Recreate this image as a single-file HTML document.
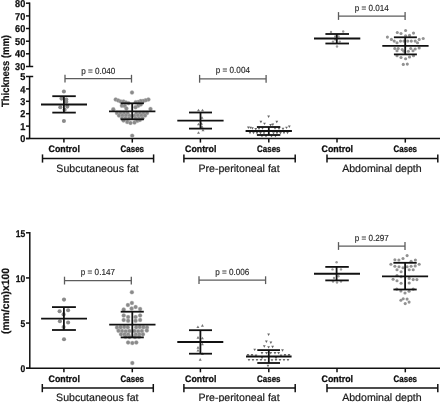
<!DOCTYPE html>
<html><head><meta charset="utf-8"><style>
html,body{margin:0;padding:0;background:#fff;}
body{width:440px;height:402px;overflow:hidden;}
svg{display:block;}
text{font-family:"Liberation Sans",Arial,sans-serif;text-rendering:geometricPrecision;}
</style></head><body>
<svg width="440" height="402" viewBox="0 0 440 402">
<rect width="440" height="402" fill="#fff"/>
<line x1="29.6" y1="2.45" x2="29.6" y2="66.5" stroke="#111" stroke-width="1.5"/>
<line x1="26.0" y1="3.2" x2="29.6" y2="3.2" stroke="#111" stroke-width="1.5"/>
<text x="25.3" y="6.800000000000001" font-size="10" font-weight="bold" text-anchor="end" fill="#111" textLength="10.20" lengthAdjust="spacingAndGlyphs" stroke="#111" stroke-width="0.25">80</text>
<line x1="26.0" y1="15.9" x2="29.6" y2="15.9" stroke="#111" stroke-width="1.5"/>
<text x="25.3" y="19.5" font-size="10" font-weight="bold" text-anchor="end" fill="#111" textLength="10.20" lengthAdjust="spacingAndGlyphs" stroke="#111" stroke-width="0.25">70</text>
<line x1="26.0" y1="28.5" x2="29.6" y2="28.5" stroke="#111" stroke-width="1.5"/>
<text x="25.3" y="32.1" font-size="10" font-weight="bold" text-anchor="end" fill="#111" textLength="10.20" lengthAdjust="spacingAndGlyphs" stroke="#111" stroke-width="0.25">60</text>
<line x1="26.0" y1="41.2" x2="29.6" y2="41.2" stroke="#111" stroke-width="1.5"/>
<text x="25.3" y="44.800000000000004" font-size="10" font-weight="bold" text-anchor="end" fill="#111" textLength="10.20" lengthAdjust="spacingAndGlyphs" stroke="#111" stroke-width="0.25">50</text>
<line x1="26.0" y1="53.8" x2="29.6" y2="53.8" stroke="#111" stroke-width="1.5"/>
<text x="25.3" y="57.4" font-size="10" font-weight="bold" text-anchor="end" fill="#111" textLength="10.20" lengthAdjust="spacingAndGlyphs" stroke="#111" stroke-width="0.25">40</text>
<line x1="26.0" y1="66.5" x2="33.2" y2="66.5" stroke="#111" stroke-width="1.5"/>
<text x="25.3" y="70.1" font-size="10" font-weight="bold" text-anchor="end" fill="#111" textLength="10.20" lengthAdjust="spacingAndGlyphs" stroke="#111" stroke-width="0.25">30</text>
<line x1="29.6" y1="76.5" x2="29.6" y2="138.5" stroke="#111" stroke-width="1.5"/>
<line x1="26.0" y1="138.5" x2="29.6" y2="138.5" stroke="#111" stroke-width="1.5"/>
<text x="25.3" y="142.1" font-size="10" font-weight="bold" text-anchor="end" fill="#111" textLength="5.10" lengthAdjust="spacingAndGlyphs" stroke="#111" stroke-width="0.25">0</text>
<line x1="26.0" y1="126.1" x2="29.6" y2="126.1" stroke="#111" stroke-width="1.5"/>
<text x="25.3" y="129.7" font-size="10" font-weight="bold" text-anchor="end" fill="#111" textLength="5.10" lengthAdjust="spacingAndGlyphs" stroke="#111" stroke-width="0.25">1</text>
<line x1="26.0" y1="113.7" x2="29.6" y2="113.7" stroke="#111" stroke-width="1.5"/>
<text x="25.3" y="117.3" font-size="10" font-weight="bold" text-anchor="end" fill="#111" textLength="5.10" lengthAdjust="spacingAndGlyphs" stroke="#111" stroke-width="0.25">2</text>
<line x1="26.0" y1="101.3" x2="29.6" y2="101.3" stroke="#111" stroke-width="1.5"/>
<text x="25.3" y="104.89999999999999" font-size="10" font-weight="bold" text-anchor="end" fill="#111" textLength="5.10" lengthAdjust="spacingAndGlyphs" stroke="#111" stroke-width="0.25">3</text>
<line x1="26.0" y1="88.9" x2="29.6" y2="88.9" stroke="#111" stroke-width="1.5"/>
<text x="25.3" y="92.5" font-size="10" font-weight="bold" text-anchor="end" fill="#111" textLength="5.10" lengthAdjust="spacingAndGlyphs" stroke="#111" stroke-width="0.25">4</text>
<line x1="26.0" y1="76.5" x2="33.2" y2="76.5" stroke="#111" stroke-width="1.5"/>
<text x="25.3" y="80.1" font-size="10" font-weight="bold" text-anchor="end" fill="#111" textLength="5.10" lengthAdjust="spacingAndGlyphs" stroke="#111" stroke-width="0.25">5</text>
<line x1="26.0" y1="138.5" x2="440" y2="138.5" stroke="#111" stroke-width="1.5"/>
<line x1="63.9" y1="138.5" x2="63.9" y2="142.6" stroke="#111" stroke-width="1.5"/>
<line x1="200.4" y1="138.5" x2="200.4" y2="142.6" stroke="#111" stroke-width="1.5"/>
<line x1="337.0" y1="138.5" x2="337.0" y2="142.6" stroke="#111" stroke-width="1.5"/>
<line x1="132.3" y1="138.5" x2="132.3" y2="142.6" stroke="#111" stroke-width="1.5"/>
<line x1="268.8" y1="138.5" x2="268.8" y2="142.6" stroke="#111" stroke-width="1.5"/>
<line x1="405.3" y1="138.5" x2="405.3" y2="142.6" stroke="#111" stroke-width="1.5"/>
<text x="64.2" y="152.1" font-size="9.3" font-weight="bold" text-anchor="middle" fill="#111" textLength="31.4" lengthAdjust="spacingAndGlyphs" stroke="#111" stroke-width="0.3">Control</text>
<text x="200.70000000000002" y="152.1" font-size="9.3" font-weight="bold" text-anchor="middle" fill="#111" textLength="31.4" lengthAdjust="spacingAndGlyphs" stroke="#111" stroke-width="0.3">Control</text>
<text x="337.3" y="152.1" font-size="9.3" font-weight="bold" text-anchor="middle" fill="#111" textLength="31.4" lengthAdjust="spacingAndGlyphs" stroke="#111" stroke-width="0.3">Control</text>
<text x="132.3" y="152.1" font-size="9.3" font-weight="bold" text-anchor="middle" fill="#111" textLength="23.4" lengthAdjust="spacingAndGlyphs" stroke="#111" stroke-width="0.3">Cases</text>
<text x="268.8" y="152.1" font-size="9.3" font-weight="bold" text-anchor="middle" fill="#111" textLength="23.4" lengthAdjust="spacingAndGlyphs" stroke="#111" stroke-width="0.3">Cases</text>
<text x="405.3" y="152.1" font-size="9.3" font-weight="bold" text-anchor="middle" fill="#111" textLength="23.4" lengthAdjust="spacingAndGlyphs" stroke="#111" stroke-width="0.3">Cases</text>
<line x1="42.5" y1="158.6" x2="153.6" y2="158.6" stroke="#111" stroke-width="1.5"/>
<line x1="42.5" y1="154.4" x2="42.5" y2="162.6" stroke="#111" stroke-width="1.5"/>
<line x1="153.6" y1="154.4" x2="153.6" y2="162.6" stroke="#111" stroke-width="1.5"/>
<text x="97.55" y="171.5" font-size="10.6" font-weight="normal" text-anchor="middle" fill="#1a1a1a" stroke="#1a1a1a" stroke-width="0.2">Subcutaneous fat</text>
<line x1="183.9" y1="158.6" x2="295.2" y2="158.6" stroke="#111" stroke-width="1.5"/>
<line x1="183.9" y1="154.4" x2="183.9" y2="162.6" stroke="#111" stroke-width="1.5"/>
<line x1="295.2" y1="154.4" x2="295.2" y2="162.6" stroke="#111" stroke-width="1.5"/>
<text x="239.05" y="171.5" font-size="10.6" font-weight="normal" text-anchor="middle" fill="#1a1a1a" stroke="#1a1a1a" stroke-width="0.2">Pre-peritoneal fat</text>
<line x1="327.0" y1="158.6" x2="437.8" y2="158.6" stroke="#111" stroke-width="1.5"/>
<line x1="327.0" y1="154.4" x2="327.0" y2="162.6" stroke="#111" stroke-width="1.5"/>
<line x1="437.8" y1="154.4" x2="437.8" y2="162.6" stroke="#111" stroke-width="1.5"/>
<text x="381.9" y="171.5" font-size="10.6" font-weight="normal" text-anchor="middle" fill="#1a1a1a" stroke="#1a1a1a" stroke-width="0.2">Abdominal depth</text>
<text transform="translate(9.2,71) rotate(-90)" font-size="10.6" font-weight="bold" text-anchor="middle" fill="#111" stroke="#111" stroke-width="0.2" textLength="72" lengthAdjust="spacingAndGlyphs">Thickness (mm)</text>
<line x1="65.0" y1="78.7" x2="131.5" y2="78.7" stroke="#5c5c5c" stroke-width="1.25"/>
<line x1="65.0" y1="74.8" x2="65.0" y2="82.60000000000001" stroke="#5c5c5c" stroke-width="1.3"/>
<line x1="131.5" y1="74.8" x2="131.5" y2="82.60000000000001" stroke="#5c5c5c" stroke-width="1.3"/>
<text x="98.25" y="73.5" font-size="8.8" font-weight="normal" text-anchor="middle" fill="#2a2a2a" textLength="34.2" lengthAdjust="spacingAndGlyphs" stroke="#2a2a2a" stroke-width="0.15">p = 0.040</text>
<line x1="199.6" y1="78.8" x2="266.1" y2="78.8" stroke="#5c5c5c" stroke-width="1.25"/>
<line x1="199.6" y1="74.89999999999999" x2="199.6" y2="82.7" stroke="#5c5c5c" stroke-width="1.3"/>
<line x1="266.1" y1="74.89999999999999" x2="266.1" y2="82.7" stroke="#5c5c5c" stroke-width="1.3"/>
<text x="232.85000000000002" y="73.3" font-size="8.8" font-weight="normal" text-anchor="middle" fill="#2a2a2a" textLength="34.2" lengthAdjust="spacingAndGlyphs" stroke="#2a2a2a" stroke-width="0.15">p = 0.004</text>
<line x1="338.5" y1="16.0" x2="405.1" y2="16.0" stroke="#5c5c5c" stroke-width="1.25"/>
<line x1="338.5" y1="12.1" x2="338.5" y2="19.9" stroke="#5c5c5c" stroke-width="1.3"/>
<line x1="405.1" y1="12.1" x2="405.1" y2="19.9" stroke="#5c5c5c" stroke-width="1.3"/>
<text x="371.8" y="10.9" font-size="8.8" font-weight="normal" text-anchor="middle" fill="#2a2a2a" textLength="34.2" lengthAdjust="spacingAndGlyphs" stroke="#2a2a2a" stroke-width="0.15">p = 0.014</text>
<circle cx="63.9" cy="91.5" r="2.05" fill="#8a8a8a"/>
<circle cx="61.5" cy="98.6" r="2.05" fill="#8a8a8a"/>
<circle cx="66.3" cy="99.6" r="2.05" fill="#8a8a8a"/>
<circle cx="66.3" cy="101.7" r="2.05" fill="#8a8a8a"/>
<circle cx="60.3" cy="107.3" r="2.05" fill="#8a8a8a"/>
<circle cx="67.3" cy="106.6" r="2.05" fill="#8a8a8a"/>
<circle cx="64.6" cy="109.8" r="2.05" fill="#8a8a8a"/>
<circle cx="63.9" cy="121" r="2.05" fill="#8a8a8a"/>
<circle cx="132" cy="92.6" r="2.0" fill="#8a8a8a" stroke="#bdbdbd" stroke-width="0.35"/>
<circle cx="115.7" cy="99.5" r="2.0" fill="#8a8a8a" stroke="#bdbdbd" stroke-width="0.35"/>
<circle cx="118.3" cy="100.6" r="2.0" fill="#8a8a8a" stroke="#bdbdbd" stroke-width="0.35"/>
<circle cx="120.7" cy="101.4" r="2.0" fill="#8a8a8a" stroke="#bdbdbd" stroke-width="0.35"/>
<circle cx="123.5" cy="101.5" r="2.0" fill="#8a8a8a" stroke="#bdbdbd" stroke-width="0.35"/>
<circle cx="126" cy="102.5" r="2.0" fill="#8a8a8a" stroke="#bdbdbd" stroke-width="0.35"/>
<circle cx="128.5" cy="103.2" r="2.0" fill="#8a8a8a" stroke="#bdbdbd" stroke-width="0.35"/>
<circle cx="148.4" cy="99.5" r="2.0" fill="#8a8a8a" stroke="#bdbdbd" stroke-width="0.35"/>
<circle cx="145.6" cy="100.3" r="2.0" fill="#8a8a8a" stroke="#bdbdbd" stroke-width="0.35"/>
<circle cx="143.1" cy="100.9" r="2.0" fill="#8a8a8a" stroke="#bdbdbd" stroke-width="0.35"/>
<circle cx="140.7" cy="101.1" r="2.0" fill="#8a8a8a" stroke="#bdbdbd" stroke-width="0.35"/>
<circle cx="138.2" cy="102" r="2.0" fill="#8a8a8a" stroke="#bdbdbd" stroke-width="0.35"/>
<circle cx="135.7" cy="102.2" r="2.0" fill="#8a8a8a" stroke="#bdbdbd" stroke-width="0.35"/>
<circle cx="121.9" cy="105.7" r="2.0" fill="#8a8a8a" stroke="#bdbdbd" stroke-width="0.35"/>
<circle cx="124.8" cy="106.0" r="2.0" fill="#8a8a8a" stroke="#bdbdbd" stroke-width="0.35"/>
<circle cx="126.4" cy="108.5" r="2.0" fill="#8a8a8a" stroke="#bdbdbd" stroke-width="0.35"/>
<circle cx="138.2" cy="105.7" r="2.0" fill="#8a8a8a" stroke="#bdbdbd" stroke-width="0.35"/>
<circle cx="140.7" cy="104.6" r="2.0" fill="#8a8a8a" stroke="#bdbdbd" stroke-width="0.35"/>
<circle cx="135.5" cy="107.3" r="2.0" fill="#8a8a8a" stroke="#bdbdbd" stroke-width="0.35"/>
<circle cx="113.3" cy="109.3" r="2.0" fill="#8a8a8a" stroke="#bdbdbd" stroke-width="0.35"/>
<circle cx="150.5" cy="108.9" r="2.0" fill="#8a8a8a" stroke="#bdbdbd" stroke-width="0.35"/>
<circle cx="117" cy="113" r="2.0" fill="#8a8a8a" stroke="#bdbdbd" stroke-width="0.35"/>
<circle cx="120.5" cy="113" r="2.0" fill="#8a8a8a" stroke="#bdbdbd" stroke-width="0.35"/>
<circle cx="124" cy="113" r="2.0" fill="#8a8a8a" stroke="#bdbdbd" stroke-width="0.35"/>
<circle cx="127.5" cy="113.2" r="2.0" fill="#8a8a8a" stroke="#bdbdbd" stroke-width="0.35"/>
<circle cx="136.5" cy="113.2" r="2.0" fill="#8a8a8a" stroke="#bdbdbd" stroke-width="0.35"/>
<circle cx="140" cy="113" r="2.0" fill="#8a8a8a" stroke="#bdbdbd" stroke-width="0.35"/>
<circle cx="143.5" cy="113" r="2.0" fill="#8a8a8a" stroke="#bdbdbd" stroke-width="0.35"/>
<circle cx="147" cy="113" r="2.0" fill="#8a8a8a" stroke="#bdbdbd" stroke-width="0.35"/>
<circle cx="119" cy="115.6" r="2.0" fill="#8a8a8a" stroke="#bdbdbd" stroke-width="0.35"/>
<circle cx="122.5" cy="115.6" r="2.0" fill="#8a8a8a" stroke="#bdbdbd" stroke-width="0.35"/>
<circle cx="126" cy="115.6" r="2.0" fill="#8a8a8a" stroke="#bdbdbd" stroke-width="0.35"/>
<circle cx="129.5" cy="115.8" r="2.0" fill="#8a8a8a" stroke="#bdbdbd" stroke-width="0.35"/>
<circle cx="134.5" cy="115.8" r="2.0" fill="#8a8a8a" stroke="#bdbdbd" stroke-width="0.35"/>
<circle cx="138" cy="115.6" r="2.0" fill="#8a8a8a" stroke="#bdbdbd" stroke-width="0.35"/>
<circle cx="141.5" cy="115.6" r="2.0" fill="#8a8a8a" stroke="#bdbdbd" stroke-width="0.35"/>
<circle cx="145" cy="115.6" r="2.0" fill="#8a8a8a" stroke="#bdbdbd" stroke-width="0.35"/>
<circle cx="122" cy="118.2" r="2.0" fill="#8a8a8a" stroke="#bdbdbd" stroke-width="0.35"/>
<circle cx="125.5" cy="118.2" r="2.0" fill="#8a8a8a" stroke="#bdbdbd" stroke-width="0.35"/>
<circle cx="129" cy="118.4" r="2.0" fill="#8a8a8a" stroke="#bdbdbd" stroke-width="0.35"/>
<circle cx="135.5" cy="118.4" r="2.0" fill="#8a8a8a" stroke="#bdbdbd" stroke-width="0.35"/>
<circle cx="139" cy="118.2" r="2.0" fill="#8a8a8a" stroke="#bdbdbd" stroke-width="0.35"/>
<circle cx="142.5" cy="118.2" r="2.0" fill="#8a8a8a" stroke="#bdbdbd" stroke-width="0.35"/>
<circle cx="123.5" cy="120.4" r="2.0" fill="#8a8a8a" stroke="#bdbdbd" stroke-width="0.35"/>
<circle cx="127.2" cy="122" r="2.0" fill="#8a8a8a" stroke="#bdbdbd" stroke-width="0.35"/>
<circle cx="130.5" cy="122.9" r="2.0" fill="#8a8a8a" stroke="#bdbdbd" stroke-width="0.35"/>
<circle cx="134.5" cy="122.6" r="2.0" fill="#8a8a8a" stroke="#bdbdbd" stroke-width="0.35"/>
<circle cx="137.4" cy="120.8" r="2.0" fill="#8a8a8a" stroke="#bdbdbd" stroke-width="0.35"/>
<circle cx="139.8" cy="120.0" r="2.0" fill="#8a8a8a" stroke="#bdbdbd" stroke-width="0.35"/>
<circle cx="132.2" cy="135.7" r="2.0" fill="#8a8a8a" stroke="#bdbdbd" stroke-width="0.35"/>
<polygon points="197.00,111.31 200.00,111.31 198.50,108.69" fill="#777"/>
<polygon points="201.00,111.31 204.00,111.31 202.50,108.69" fill="#777"/>
<polygon points="200.50,118.81 203.50,118.81 202.00,116.19" fill="#777"/>
<polygon points="200.00,124.81 203.00,124.81 201.50,122.19" fill="#777"/>
<polygon points="197.00,125.31 200.00,125.31 198.50,122.69" fill="#777"/>
<polygon points="200.50,127.81 203.50,127.81 202.00,125.19" fill="#777"/>
<polygon points="201.50,131.31 204.50,131.31 203.00,128.69" fill="#777"/>
<polygon points="197.00,133.81 200.00,133.81 198.50,131.19" fill="#777"/>
<polygon points="267.20,115.58 270.00,115.58 268.60,118.02" fill="#666"/>
<polygon points="259.50,120.78 262.30,120.78 260.90,123.22" fill="#666"/>
<polygon points="275.40,120.78 278.20,120.78 276.80,123.22" fill="#666"/>
<polygon points="263.10,122.68 265.90,122.68 264.50,125.12" fill="#666"/>
<polygon points="271.40,123.48 274.20,123.48 272.80,125.92" fill="#666"/>
<polygon points="269.20,123.98 272.00,123.98 270.60,126.42" fill="#666"/>
<polygon points="247.00,126.48 249.80,126.48 248.40,128.92" fill="#666"/>
<polygon points="249.10,126.68 251.90,126.68 250.50,129.12" fill="#666"/>
<polygon points="251.00,127.28 253.80,127.28 252.40,129.72" fill="#666"/>
<polygon points="254.40,128.08 257.20,128.08 255.80,130.52" fill="#666"/>
<polygon points="285.10,126.68 287.90,126.68 286.50,129.12" fill="#666"/>
<polygon points="287.90,125.58 290.70,125.58 289.30,128.02" fill="#666"/>
<polygon points="281.60,127.78 284.40,127.78 283.00,130.22" fill="#666"/>
<polygon points="257.60,127.58 260.40,127.58 259.00,130.02" fill="#666"/>
<polygon points="261.10,127.28 263.90,127.28 262.50,129.72" fill="#666"/>
<polygon points="273.60,127.28 276.40,127.28 275.00,129.72" fill="#666"/>
<polygon points="277.60,127.58 280.40,127.58 279.00,130.02" fill="#666"/>
<polygon points="248.60,131.78 251.40,131.78 250.00,134.22" fill="#666"/>
<polygon points="252.10,131.78 254.90,131.78 253.50,134.22" fill="#666"/>
<polygon points="255.60,131.98 258.40,131.98 257.00,134.42" fill="#666"/>
<polygon points="259.10,132.08 261.90,132.08 260.50,134.52" fill="#666"/>
<polygon points="262.60,132.18 265.40,132.18 264.00,134.62" fill="#666"/>
<polygon points="272.10,132.18 274.90,132.18 273.50,134.62" fill="#666"/>
<polygon points="275.60,132.08 278.40,132.08 277.00,134.52" fill="#666"/>
<polygon points="279.10,131.98 281.90,131.98 280.50,134.42" fill="#666"/>
<polygon points="282.60,131.78 285.40,131.78 284.00,134.22" fill="#666"/>
<polygon points="286.10,131.78 288.90,131.78 287.50,134.22" fill="#666"/>
<polygon points="260.60,134.98 263.40,134.98 262.00,137.42" fill="#666"/>
<polygon points="264.60,135.18 267.40,135.18 266.00,137.62" fill="#666"/>
<polygon points="270.10,135.18 272.90,135.18 271.50,137.62" fill="#666"/>
<polygon points="274.10,134.98 276.90,134.98 275.50,137.42" fill="#666"/>
<circle cx="331" cy="32" r="1.2" fill="#9a9a9a"/>
<circle cx="343.2" cy="31.5" r="1.2" fill="#9a9a9a"/>
<circle cx="335.2" cy="36.4" r="1.2" fill="#9a9a9a"/>
<circle cx="338.6" cy="36.4" r="1.2" fill="#9a9a9a"/>
<circle cx="335.2" cy="39.5" r="1.2" fill="#9a9a9a"/>
<circle cx="333" cy="41.6" r="1.2" fill="#9a9a9a"/>
<circle cx="339.8" cy="41.6" r="1.2" fill="#9a9a9a"/>
<circle cx="337" cy="46.5" r="1.2" fill="#9a9a9a"/>
<circle cx="405.6" cy="30.5" r="1.55" fill="#929292"/>
<circle cx="397.3" cy="32.5" r="1.55" fill="#929292"/>
<circle cx="401" cy="33.5" r="1.55" fill="#929292"/>
<circle cx="413.5" cy="33.1" r="1.55" fill="#929292"/>
<circle cx="409.5" cy="35.4" r="1.55" fill="#929292"/>
<circle cx="405.6" cy="35.7" r="1.55" fill="#929292"/>
<circle cx="387.4" cy="37.1" r="1.55" fill="#929292"/>
<circle cx="423.2" cy="38.5" r="1.55" fill="#929292"/>
<circle cx="391.4" cy="39.4" r="1.55" fill="#929292"/>
<circle cx="419.2" cy="39.4" r="1.55" fill="#929292"/>
<circle cx="394.2" cy="41.1" r="1.55" fill="#929292"/>
<circle cx="397" cy="42.8" r="1.55" fill="#929292"/>
<circle cx="400.5" cy="41.1" r="1.55" fill="#929292"/>
<circle cx="403.9" cy="41.1" r="1.55" fill="#929292"/>
<circle cx="407.8" cy="41.1" r="1.55" fill="#929292"/>
<circle cx="411.3" cy="41.1" r="1.55" fill="#929292"/>
<circle cx="415.2" cy="41.1" r="1.55" fill="#929292"/>
<circle cx="417.5" cy="42.8" r="1.55" fill="#929292"/>
<circle cx="394.8" cy="48.5" r="1.55" fill="#929292"/>
<circle cx="398.2" cy="48.5" r="1.55" fill="#929292"/>
<circle cx="402.2" cy="49.6" r="1.55" fill="#929292"/>
<circle cx="410.7" cy="48.5" r="1.55" fill="#929292"/>
<circle cx="415.2" cy="49" r="1.55" fill="#929292"/>
<circle cx="419.2" cy="47.9" r="1.55" fill="#929292"/>
<circle cx="397" cy="50.7" r="1.55" fill="#929292"/>
<circle cx="403.9" cy="51.3" r="1.55" fill="#929292"/>
<circle cx="408.4" cy="51.3" r="1.55" fill="#929292"/>
<circle cx="413" cy="50.7" r="1.55" fill="#929292"/>
<circle cx="397" cy="55.8" r="1.55" fill="#929292"/>
<circle cx="401" cy="57.5" r="1.55" fill="#929292"/>
<circle cx="405.6" cy="58.7" r="1.55" fill="#929292"/>
<circle cx="409.5" cy="57" r="1.55" fill="#929292"/>
<circle cx="413.5" cy="55.8" r="1.55" fill="#929292"/>
<circle cx="403.3" cy="64.4" r="1.55" fill="#929292"/>
<circle cx="407.3" cy="64.1" r="1.55" fill="#929292"/>
<line x1="41" y1="104.5" x2="87" y2="104.5" stroke="#111" stroke-width="1.8"/>
<line x1="52.3" y1="96.2" x2="75.8" y2="96.2" stroke="#111" stroke-width="1.8"/>
<line x1="52.3" y1="112.6" x2="75.8" y2="112.6" stroke="#111" stroke-width="1.8"/>
<line x1="63.9" y1="96.2" x2="63.9" y2="112.6" stroke="#111" stroke-width="1.8"/>
<line x1="109" y1="111.3" x2="155.4" y2="111.3" stroke="#111" stroke-width="1.8"/>
<line x1="120.7" y1="103.3" x2="143.9" y2="103.3" stroke="#111" stroke-width="1.8"/>
<line x1="120.7" y1="119.3" x2="143.9" y2="119.3" stroke="#111" stroke-width="1.8"/>
<line x1="132.2" y1="103.3" x2="132.2" y2="119.3" stroke="#111" stroke-width="1.8"/>
<line x1="177.3" y1="120.7" x2="223.6" y2="120.7" stroke="#111" stroke-width="1.8"/>
<line x1="189" y1="112.5" x2="212" y2="112.5" stroke="#111" stroke-width="1.8"/>
<line x1="189" y1="128.6" x2="212" y2="128.6" stroke="#111" stroke-width="1.8"/>
<line x1="200.5" y1="112.5" x2="200.5" y2="128.6" stroke="#111" stroke-width="1.8"/>
<line x1="245.6" y1="131.0" x2="291.9" y2="131.0" stroke="#111" stroke-width="1.8"/>
<line x1="256.9" y1="127.0" x2="280.3" y2="127.0" stroke="#111" stroke-width="1.8"/>
<line x1="256.9" y1="135.0" x2="280.3" y2="135.0" stroke="#111" stroke-width="1.8"/>
<line x1="268.8" y1="127.0" x2="268.8" y2="135.0" stroke="#111" stroke-width="1.8"/>
<line x1="314" y1="38.5" x2="360.3" y2="38.5" stroke="#111" stroke-width="1.8"/>
<line x1="325.4" y1="34.0" x2="349" y2="34.0" stroke="#111" stroke-width="1.8"/>
<line x1="325.4" y1="43.5" x2="349" y2="43.5" stroke="#111" stroke-width="1.8"/>
<line x1="336.8" y1="34.0" x2="336.8" y2="43.5" stroke="#111" stroke-width="1.8"/>
<line x1="382.3" y1="45.8" x2="428.6" y2="45.8" stroke="#111" stroke-width="1.8"/>
<line x1="393.9" y1="37.3" x2="416.9" y2="37.3" stroke="#111" stroke-width="1.8"/>
<line x1="393.9" y1="54.4" x2="416.9" y2="54.4" stroke="#111" stroke-width="1.8"/>
<line x1="405.2" y1="37.3" x2="405.2" y2="54.4" stroke="#111" stroke-width="1.8"/>
<line x1="29.8" y1="232.05" x2="29.8" y2="368.2" stroke="#111" stroke-width="1.5"/>
<line x1="26.0" y1="368.2" x2="29.6" y2="368.2" stroke="#111" stroke-width="1.5"/>
<text x="25.2" y="372.09999999999997" font-size="9.7" font-weight="bold" text-anchor="end" fill="#111" textLength="4.75" lengthAdjust="spacingAndGlyphs" stroke="#111" stroke-width="0.25">0</text>
<line x1="26.0" y1="323.065" x2="29.6" y2="323.065" stroke="#111" stroke-width="1.5"/>
<text x="25.2" y="326.965" font-size="9.7" font-weight="bold" text-anchor="end" fill="#111" textLength="4.75" lengthAdjust="spacingAndGlyphs" stroke="#111" stroke-width="0.25">5</text>
<line x1="26.0" y1="277.93" x2="29.6" y2="277.93" stroke="#111" stroke-width="1.5"/>
<text x="25.2" y="281.83" font-size="9.7" font-weight="bold" text-anchor="end" fill="#111" textLength="9.50" lengthAdjust="spacingAndGlyphs" stroke="#111" stroke-width="0.25">10</text>
<line x1="26.0" y1="232.795" x2="29.6" y2="232.795" stroke="#111" stroke-width="1.5"/>
<text x="25.2" y="236.695" font-size="9.7" font-weight="bold" text-anchor="end" fill="#111" textLength="9.50" lengthAdjust="spacingAndGlyphs" stroke="#111" stroke-width="0.25">15</text>
<line x1="26.0" y1="368.2" x2="440" y2="368.2" stroke="#111" stroke-width="1.5"/>
<line x1="63.9" y1="368.2" x2="63.9" y2="372.3" stroke="#111" stroke-width="1.5"/>
<line x1="200.4" y1="368.2" x2="200.4" y2="372.3" stroke="#111" stroke-width="1.5"/>
<line x1="337.0" y1="368.2" x2="337.0" y2="372.3" stroke="#111" stroke-width="1.5"/>
<line x1="132.3" y1="368.2" x2="132.3" y2="372.3" stroke="#111" stroke-width="1.5"/>
<line x1="268.8" y1="368.2" x2="268.8" y2="372.3" stroke="#111" stroke-width="1.5"/>
<line x1="405.3" y1="368.2" x2="405.3" y2="372.3" stroke="#111" stroke-width="1.5"/>
<text x="64.2" y="382.1" font-size="9.3" font-weight="bold" text-anchor="middle" fill="#111" textLength="31.4" lengthAdjust="spacingAndGlyphs" stroke="#111" stroke-width="0.3">Control</text>
<text x="200.70000000000002" y="382.1" font-size="9.3" font-weight="bold" text-anchor="middle" fill="#111" textLength="31.4" lengthAdjust="spacingAndGlyphs" stroke="#111" stroke-width="0.3">Control</text>
<text x="337.3" y="382.1" font-size="9.3" font-weight="bold" text-anchor="middle" fill="#111" textLength="31.4" lengthAdjust="spacingAndGlyphs" stroke="#111" stroke-width="0.3">Control</text>
<text x="132.3" y="382.1" font-size="9.3" font-weight="bold" text-anchor="middle" fill="#111" textLength="23.4" lengthAdjust="spacingAndGlyphs" stroke="#111" stroke-width="0.3">Cases</text>
<text x="268.8" y="382.1" font-size="9.3" font-weight="bold" text-anchor="middle" fill="#111" textLength="23.4" lengthAdjust="spacingAndGlyphs" stroke="#111" stroke-width="0.3">Cases</text>
<text x="405.3" y="382.1" font-size="9.3" font-weight="bold" text-anchor="middle" fill="#111" textLength="23.4" lengthAdjust="spacingAndGlyphs" stroke="#111" stroke-width="0.3">Cases</text>
<line x1="42.3" y1="388.1" x2="153.3" y2="388.1" stroke="#111" stroke-width="1.5"/>
<line x1="42.3" y1="384.0" x2="42.3" y2="392.2" stroke="#111" stroke-width="1.5"/>
<line x1="153.3" y1="384.0" x2="153.3" y2="392.2" stroke="#111" stroke-width="1.5"/>
<text x="97.30000000000001" y="400.7" font-size="10.6" font-weight="normal" text-anchor="middle" fill="#1a1a1a" stroke="#1a1a1a" stroke-width="0.2">Subcutaneous fat</text>
<line x1="183.9" y1="388.1" x2="295.2" y2="388.1" stroke="#111" stroke-width="1.5"/>
<line x1="183.9" y1="384.0" x2="183.9" y2="392.2" stroke="#111" stroke-width="1.5"/>
<line x1="295.2" y1="384.0" x2="295.2" y2="392.2" stroke="#111" stroke-width="1.5"/>
<text x="239.05" y="400.7" font-size="10.6" font-weight="normal" text-anchor="middle" fill="#1a1a1a" stroke="#1a1a1a" stroke-width="0.2">Pre-peritoneal fat</text>
<line x1="327.0" y1="388.1" x2="437.8" y2="388.1" stroke="#111" stroke-width="1.5"/>
<line x1="327.0" y1="384.0" x2="327.0" y2="392.2" stroke="#111" stroke-width="1.5"/>
<line x1="437.8" y1="384.0" x2="437.8" y2="392.2" stroke="#111" stroke-width="1.5"/>
<text x="381.9" y="400.7" font-size="10.6" font-weight="normal" text-anchor="middle" fill="#1a1a1a" stroke="#1a1a1a" stroke-width="0.2">Abdominal depth</text>
<text transform="translate(9.2,301) rotate(-90)" font-size="10.6" font-weight="bold" text-anchor="middle" fill="#111" stroke="#111" stroke-width="0.2" textLength="66" lengthAdjust="spacingAndGlyphs">(mm/cm)x100</text>
<line x1="64.5" y1="280.6" x2="131.3" y2="280.6" stroke="#5c5c5c" stroke-width="1.25"/>
<line x1="64.5" y1="276.70000000000005" x2="64.5" y2="284.5" stroke="#5c5c5c" stroke-width="1.3"/>
<line x1="131.3" y1="276.70000000000005" x2="131.3" y2="284.5" stroke="#5c5c5c" stroke-width="1.3"/>
<text x="97.9" y="275.3" font-size="8.8" font-weight="normal" text-anchor="middle" fill="#2a2a2a" textLength="34.2" lengthAdjust="spacingAndGlyphs" stroke="#2a2a2a" stroke-width="0.15">p = 0.147</text>
<line x1="199.0" y1="280.2" x2="265.6" y2="280.2" stroke="#5c5c5c" stroke-width="1.25"/>
<line x1="199.0" y1="276.3" x2="199.0" y2="284.09999999999997" stroke="#5c5c5c" stroke-width="1.3"/>
<line x1="265.6" y1="276.3" x2="265.6" y2="284.09999999999997" stroke="#5c5c5c" stroke-width="1.3"/>
<text x="232.3" y="274.9" font-size="8.8" font-weight="normal" text-anchor="middle" fill="#2a2a2a" textLength="34.2" lengthAdjust="spacingAndGlyphs" stroke="#2a2a2a" stroke-width="0.15">p = 0.006</text>
<line x1="338.5" y1="246.0" x2="405.0" y2="246.0" stroke="#5c5c5c" stroke-width="1.25"/>
<line x1="338.5" y1="242.1" x2="338.5" y2="249.9" stroke="#5c5c5c" stroke-width="1.3"/>
<line x1="405.0" y1="242.1" x2="405.0" y2="249.9" stroke="#5c5c5c" stroke-width="1.3"/>
<text x="371.75" y="240.7" font-size="8.8" font-weight="normal" text-anchor="middle" fill="#2a2a2a" textLength="34.2" lengthAdjust="spacingAndGlyphs" stroke="#2a2a2a" stroke-width="0.15">p = 0.297</text>
<circle cx="64" cy="299.6" r="2.05" fill="#8a8a8a"/>
<circle cx="59.6" cy="311.2" r="2.05" fill="#8a8a8a"/>
<circle cx="68.1" cy="310.3" r="2.05" fill="#8a8a8a"/>
<circle cx="63.6" cy="314.4" r="2.05" fill="#8a8a8a"/>
<circle cx="59.9" cy="321.2" r="2.05" fill="#8a8a8a"/>
<circle cx="68.1" cy="322.5" r="2.05" fill="#8a8a8a"/>
<circle cx="63.6" cy="327" r="2.05" fill="#8a8a8a"/>
<circle cx="64" cy="339.3" r="2.05" fill="#8a8a8a"/>
<circle cx="131.9" cy="292.2" r="2.0" fill="#8a8a8a" stroke="#bdbdbd" stroke-width="0.35"/>
<circle cx="131.9" cy="302.9" r="2.0" fill="#8a8a8a" stroke="#bdbdbd" stroke-width="0.35"/>
<circle cx="127.9" cy="305.1" r="2.0" fill="#8a8a8a" stroke="#bdbdbd" stroke-width="0.35"/>
<circle cx="135.6" cy="307.1" r="2.0" fill="#8a8a8a" stroke="#bdbdbd" stroke-width="0.35"/>
<circle cx="131.6" cy="308.6" r="2.0" fill="#8a8a8a" stroke="#bdbdbd" stroke-width="0.35"/>
<circle cx="123.7" cy="309.6" r="2.0" fill="#8a8a8a" stroke="#bdbdbd" stroke-width="0.35"/>
<circle cx="140.1" cy="308.9" r="2.0" fill="#8a8a8a" stroke="#bdbdbd" stroke-width="0.35"/>
<circle cx="123.7" cy="315.6" r="2.0" fill="#8a8a8a" stroke="#bdbdbd" stroke-width="0.35"/>
<circle cx="140.1" cy="315.6" r="2.0" fill="#8a8a8a" stroke="#bdbdbd" stroke-width="0.35"/>
<circle cx="128.1" cy="317.1" r="2.0" fill="#8a8a8a" stroke="#bdbdbd" stroke-width="0.35"/>
<circle cx="135.6" cy="317.1" r="2.0" fill="#8a8a8a" stroke="#bdbdbd" stroke-width="0.35"/>
<circle cx="123.7" cy="320" r="2.0" fill="#8a8a8a" stroke="#bdbdbd" stroke-width="0.35"/>
<circle cx="128.1" cy="320.8" r="2.0" fill="#8a8a8a" stroke="#bdbdbd" stroke-width="0.35"/>
<circle cx="135.6" cy="320.8" r="2.0" fill="#8a8a8a" stroke="#bdbdbd" stroke-width="0.35"/>
<circle cx="140.1" cy="320" r="2.0" fill="#8a8a8a" stroke="#bdbdbd" stroke-width="0.35"/>
<circle cx="117" cy="327.5" r="2.0" fill="#8a8a8a" stroke="#bdbdbd" stroke-width="0.35"/>
<circle cx="120.6" cy="327.2" r="2.0" fill="#8a8a8a" stroke="#bdbdbd" stroke-width="0.35"/>
<circle cx="124.2" cy="327.0" r="2.0" fill="#8a8a8a" stroke="#bdbdbd" stroke-width="0.35"/>
<circle cx="127.8" cy="327.2" r="2.0" fill="#8a8a8a" stroke="#bdbdbd" stroke-width="0.35"/>
<circle cx="136.2" cy="327.2" r="2.0" fill="#8a8a8a" stroke="#bdbdbd" stroke-width="0.35"/>
<circle cx="139.8" cy="327.0" r="2.0" fill="#8a8a8a" stroke="#bdbdbd" stroke-width="0.35"/>
<circle cx="143.4" cy="327.2" r="2.0" fill="#8a8a8a" stroke="#bdbdbd" stroke-width="0.35"/>
<circle cx="147.0" cy="327.5" r="2.0" fill="#8a8a8a" stroke="#bdbdbd" stroke-width="0.35"/>
<circle cx="118.5" cy="330.8" r="2.0" fill="#8a8a8a" stroke="#bdbdbd" stroke-width="0.35"/>
<circle cx="122.1" cy="331.0" r="2.0" fill="#8a8a8a" stroke="#bdbdbd" stroke-width="0.35"/>
<circle cx="125.7" cy="331.2" r="2.0" fill="#8a8a8a" stroke="#bdbdbd" stroke-width="0.35"/>
<circle cx="129.3" cy="331.0" r="2.0" fill="#8a8a8a" stroke="#bdbdbd" stroke-width="0.35"/>
<circle cx="134.7" cy="331.0" r="2.0" fill="#8a8a8a" stroke="#bdbdbd" stroke-width="0.35"/>
<circle cx="138.3" cy="331.2" r="2.0" fill="#8a8a8a" stroke="#bdbdbd" stroke-width="0.35"/>
<circle cx="141.9" cy="331.0" r="2.0" fill="#8a8a8a" stroke="#bdbdbd" stroke-width="0.35"/>
<circle cx="146.8" cy="330.5" r="2.0" fill="#8a8a8a" stroke="#bdbdbd" stroke-width="0.35"/>
<circle cx="121.0" cy="334.2" r="2.0" fill="#8a8a8a" stroke="#bdbdbd" stroke-width="0.35"/>
<circle cx="124.6" cy="334.4" r="2.0" fill="#8a8a8a" stroke="#bdbdbd" stroke-width="0.35"/>
<circle cx="128.2" cy="334.4" r="2.0" fill="#8a8a8a" stroke="#bdbdbd" stroke-width="0.35"/>
<circle cx="135.8" cy="334.4" r="2.0" fill="#8a8a8a" stroke="#bdbdbd" stroke-width="0.35"/>
<circle cx="139.4" cy="334.4" r="2.0" fill="#8a8a8a" stroke="#bdbdbd" stroke-width="0.35"/>
<circle cx="143.0" cy="334.2" r="2.0" fill="#8a8a8a" stroke="#bdbdbd" stroke-width="0.35"/>
<circle cx="125.5" cy="336.8" r="2.0" fill="#8a8a8a" stroke="#bdbdbd" stroke-width="0.35"/>
<circle cx="129.5" cy="337" r="2.0" fill="#8a8a8a" stroke="#bdbdbd" stroke-width="0.35"/>
<circle cx="135" cy="337" r="2.0" fill="#8a8a8a" stroke="#bdbdbd" stroke-width="0.35"/>
<circle cx="139" cy="336.8" r="2.0" fill="#8a8a8a" stroke="#bdbdbd" stroke-width="0.35"/>
<circle cx="128.1" cy="342.5" r="2.0" fill="#8a8a8a" stroke="#bdbdbd" stroke-width="0.35"/>
<circle cx="132.3" cy="343" r="2.0" fill="#8a8a8a" stroke="#bdbdbd" stroke-width="0.35"/>
<circle cx="136.3" cy="342.5" r="2.0" fill="#8a8a8a" stroke="#bdbdbd" stroke-width="0.35"/>
<circle cx="132.3" cy="363.0" r="2.0" fill="#8a8a8a" stroke="#bdbdbd" stroke-width="0.35"/>
<polygon points="196.40,328.00 199.40,328.00 197.90,325.39" fill="#777"/>
<polygon points="200.90,326.70 203.90,326.70 202.40,324.09" fill="#777"/>
<polygon points="196.50,338.70 199.50,338.70 198.00,336.09" fill="#777"/>
<polygon points="200.90,339.31 203.90,339.31 202.40,336.69" fill="#777"/>
<polygon points="200.90,345.31 203.90,345.31 202.40,342.69" fill="#777"/>
<polygon points="196.50,348.70 199.50,348.70 198.00,346.09" fill="#777"/>
<polygon points="196.50,351.50 199.50,351.50 198.00,348.89" fill="#777"/>
<polygon points="200.90,354.91 203.90,354.91 202.40,352.30" fill="#777"/>
<polygon points="198.70,360.70 201.70,360.70 200.20,358.09" fill="#777"/>
<polygon points="267.20,333.58 270.00,333.58 268.60,336.02" fill="#666"/>
<polygon points="265.00,340.48 267.80,340.48 266.40,342.92" fill="#666"/>
<polygon points="269.50,341.58 272.30,341.58 270.90,344.02" fill="#666"/>
<polygon points="262.90,345.28 265.70,345.28 264.30,347.72" fill="#666"/>
<polygon points="267.20,346.18 270.00,346.18 268.60,348.62" fill="#666"/>
<polygon points="271.20,345.78 274.00,345.78 272.60,348.22" fill="#666"/>
<polygon points="253.30,348.68 256.10,348.68 254.70,351.12" fill="#666"/>
<polygon points="281.10,349.28 283.90,349.28 282.50,351.72" fill="#666"/>
<polygon points="260.60,352.08 263.40,352.08 262.00,354.52" fill="#666"/>
<polygon points="265.10,352.08 267.90,352.08 266.50,354.52" fill="#666"/>
<polygon points="269.30,352.08 272.10,352.08 270.70,354.52" fill="#666"/>
<polygon points="273.60,352.08 276.40,352.08 275.00,354.52" fill="#666"/>
<polygon points="277.20,352.08 280.00,352.08 278.60,354.52" fill="#666"/>
<polygon points="246.60,353.98 249.40,353.98 248.00,356.42" fill="#666"/>
<polygon points="250.60,353.98 253.40,353.98 252.00,356.42" fill="#666"/>
<polygon points="254.60,354.38 257.40,354.38 256.00,356.82" fill="#666"/>
<polygon points="279.60,354.38 282.40,354.38 281.00,356.82" fill="#666"/>
<polygon points="283.60,353.98 286.40,353.98 285.00,356.42" fill="#666"/>
<polygon points="287.60,353.98 290.40,353.98 289.00,356.42" fill="#666"/>
<polygon points="247.60,358.88 250.40,358.88 249.00,361.32" fill="#666"/>
<polygon points="251.60,358.88 254.40,358.88 253.00,361.32" fill="#666"/>
<polygon points="255.60,358.88 258.40,358.88 257.00,361.32" fill="#666"/>
<polygon points="259.60,358.88 262.40,358.88 261.00,361.32" fill="#666"/>
<polygon points="263.60,359.18 266.40,359.18 265.00,361.62" fill="#666"/>
<polygon points="270.60,359.18 273.40,359.18 272.00,361.62" fill="#666"/>
<polygon points="274.60,358.88 277.40,358.88 276.00,361.32" fill="#666"/>
<polygon points="278.60,358.88 281.40,358.88 280.00,361.32" fill="#666"/>
<polygon points="282.60,358.88 285.40,358.88 284.00,361.32" fill="#666"/>
<polygon points="286.60,358.88 289.40,358.88 288.00,361.32" fill="#666"/>
<polygon points="260.60,356.78 263.40,356.78 262.00,359.22" fill="#666"/>
<polygon points="274.60,356.78 277.40,356.78 276.00,359.22" fill="#666"/>
<polygon points="266.60,364.78 269.40,364.78 268.00,367.22" fill="#666"/>
<circle cx="336.6" cy="262.3" r="1.2" fill="#9a9a9a"/>
<circle cx="332.5" cy="269.4" r="1.2" fill="#9a9a9a"/>
<circle cx="341" cy="269.4" r="1.2" fill="#9a9a9a"/>
<circle cx="338.5" cy="276.3" r="1.2" fill="#9a9a9a"/>
<circle cx="334" cy="278" r="1.2" fill="#9a9a9a"/>
<circle cx="333" cy="281.5" r="1.2" fill="#9a9a9a"/>
<circle cx="337" cy="282.5" r="1.2" fill="#9a9a9a"/>
<circle cx="341" cy="281.5" r="1.2" fill="#9a9a9a"/>
<circle cx="407.1" cy="255.6" r="1.55" fill="#929292"/>
<circle cx="403" cy="258.5" r="1.55" fill="#929292"/>
<circle cx="394.9" cy="259.7" r="1.55" fill="#929292"/>
<circle cx="398.9" cy="260" r="1.55" fill="#929292"/>
<circle cx="411.1" cy="261.2" r="1.55" fill="#929292"/>
<circle cx="415.4" cy="260" r="1.55" fill="#929292"/>
<circle cx="390.9" cy="264.3" r="1.55" fill="#929292"/>
<circle cx="419.2" cy="264.3" r="1.55" fill="#929292"/>
<circle cx="394.9" cy="266.2" r="1.55" fill="#929292"/>
<circle cx="399" cy="266.8" r="1.55" fill="#929292"/>
<circle cx="403" cy="267.8" r="1.55" fill="#929292"/>
<circle cx="407.1" cy="266.8" r="1.55" fill="#929292"/>
<circle cx="411.1" cy="266.2" r="1.55" fill="#929292"/>
<circle cx="415.2" cy="265.9" r="1.55" fill="#929292"/>
<circle cx="397" cy="269.7" r="1.55" fill="#929292"/>
<circle cx="409.2" cy="269.7" r="1.55" fill="#929292"/>
<circle cx="413.2" cy="269.7" r="1.55" fill="#929292"/>
<circle cx="401.1" cy="271.8" r="1.55" fill="#929292"/>
<circle cx="397" cy="275.5" r="1.55" fill="#929292"/>
<circle cx="401.1" cy="276.7" r="1.55" fill="#929292"/>
<circle cx="393.1" cy="279.2" r="1.55" fill="#929292"/>
<circle cx="397" cy="280.8" r="1.55" fill="#929292"/>
<circle cx="409.2" cy="278.4" r="1.55" fill="#929292"/>
<circle cx="413.2" cy="279.6" r="1.55" fill="#929292"/>
<circle cx="416.9" cy="279.6" r="1.55" fill="#929292"/>
<circle cx="401.1" cy="283.3" r="1.55" fill="#929292"/>
<circle cx="409.2" cy="283" r="1.55" fill="#929292"/>
<circle cx="400.9" cy="290.9" r="1.55" fill="#929292"/>
<circle cx="409.1" cy="291.2" r="1.55" fill="#929292"/>
<circle cx="396.8" cy="289.1" r="1.55" fill="#929292"/>
<circle cx="413.2" cy="289.1" r="1.55" fill="#929292"/>
<circle cx="405" cy="293" r="1.55" fill="#929292"/>
<circle cx="400.9" cy="300.3" r="1.55" fill="#929292"/>
<circle cx="403.2" cy="298.8" r="1.55" fill="#929292"/>
<circle cx="407.1" cy="299.1" r="1.55" fill="#929292"/>
<circle cx="409.1" cy="302.1" r="1.55" fill="#929292"/>
<circle cx="405.2" cy="303.6" r="1.55" fill="#929292"/>
<line x1="41.1" y1="318.7" x2="87" y2="318.7" stroke="#111" stroke-width="1.8"/>
<line x1="52" y1="307.1" x2="75.9" y2="307.1" stroke="#111" stroke-width="1.8"/>
<line x1="52" y1="330.0" x2="75.9" y2="330.0" stroke="#111" stroke-width="1.8"/>
<line x1="63.9" y1="307.1" x2="63.9" y2="330.0" stroke="#111" stroke-width="1.8"/>
<line x1="109.2" y1="324.6" x2="155.5" y2="324.6" stroke="#111" stroke-width="1.8"/>
<line x1="120.7" y1="311.7" x2="143.8" y2="311.7" stroke="#111" stroke-width="1.8"/>
<line x1="120.7" y1="337.4" x2="143.8" y2="337.4" stroke="#111" stroke-width="1.8"/>
<line x1="132.3" y1="311.7" x2="132.3" y2="337.4" stroke="#111" stroke-width="1.8"/>
<line x1="177.3" y1="342.0" x2="223.3" y2="342.0" stroke="#111" stroke-width="1.8"/>
<line x1="189" y1="330.2" x2="212" y2="330.2" stroke="#111" stroke-width="1.8"/>
<line x1="189" y1="353.7" x2="212" y2="353.7" stroke="#111" stroke-width="1.8"/>
<line x1="200.4" y1="330.2" x2="200.4" y2="353.7" stroke="#111" stroke-width="1.8"/>
<line x1="246" y1="356.5" x2="291.6" y2="356.5" stroke="#111" stroke-width="1.8"/>
<line x1="257.3" y1="350.1" x2="280" y2="350.1" stroke="#111" stroke-width="1.8"/>
<line x1="257.3" y1="363.0" x2="280" y2="363.0" stroke="#111" stroke-width="1.8"/>
<line x1="268.8" y1="350.1" x2="268.8" y2="363.0" stroke="#111" stroke-width="1.8"/>
<line x1="314" y1="273.75" x2="360" y2="273.75" stroke="#111" stroke-width="1.8"/>
<line x1="325.3" y1="266.9" x2="348.8" y2="266.9" stroke="#111" stroke-width="1.8"/>
<line x1="325.3" y1="280.4" x2="348.8" y2="280.4" stroke="#111" stroke-width="1.8"/>
<line x1="336.6" y1="266.9" x2="336.6" y2="280.4" stroke="#111" stroke-width="1.8"/>
<line x1="382" y1="276.4" x2="428.1" y2="276.4" stroke="#111" stroke-width="1.8"/>
<line x1="393.4" y1="262.8" x2="416.7" y2="262.8" stroke="#111" stroke-width="1.8"/>
<line x1="393.4" y1="289.5" x2="416.7" y2="289.5" stroke="#111" stroke-width="1.8"/>
<line x1="405.1" y1="262.8" x2="405.1" y2="289.5" stroke="#111" stroke-width="1.8"/>
</svg>
</body></html>
